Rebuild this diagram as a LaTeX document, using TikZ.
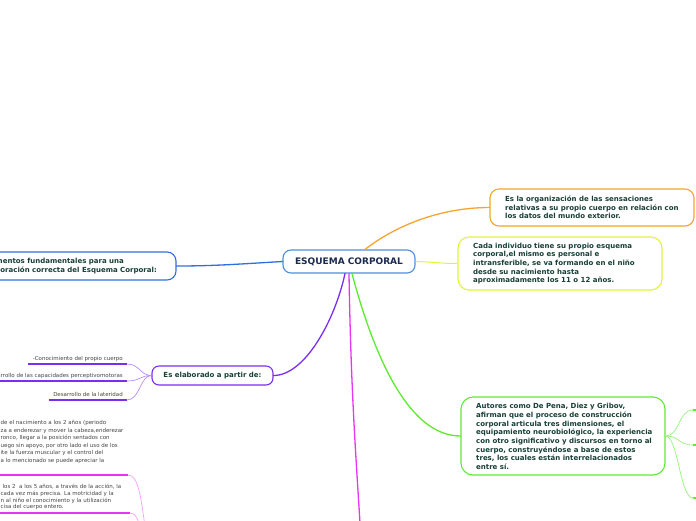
\documentclass[tikz,border=0pt]{standalone}
\usepackage{fontspec}
\setmainfont{DejaVu Sans}
\definecolor{cblue}{HTML}{4A90D9}
\definecolor{corange}{HTML}{F5A52A}
\definecolor{cyellow}{HTML}{E2F33C}
\definecolor{cbl}{HTML}{2F6FDF}
\definecolor{cpurple}{HTML}{7A2EF2}
\definecolor{cpurplel}{HTML}{B58DF8}
\definecolor{cmag}{HTML}{E535F2}
\definecolor{cmagl}{HTML}{F5A0F8}
\definecolor{cgreen}{HTML}{5EEB2E}
\definecolor{cgreenl}{HTML}{97F07F}
\definecolor{ctext}{HTML}{173F35}
\definecolor{cnavy}{HTML}{1B2A4E}
\definecolor{cgray}{HTML}{444444}
\begin{document}
\begin{tikzpicture}[x=1pt,y=-1pt,
  box/.style={draw, rounded corners=9pt, line width=1.1pt, fill=white, inner sep=0pt},
  btxt/.style={font=\fontsize{7}{8.7}\selectfont\bfseries, text=ctext, align=left, inner sep=0pt},
  ltxt/.style={font=\fontsize{5.5}{7}\selectfont, text=cgray, align=left, inner sep=0pt},
  branch/.style={line width=1.3pt, line cap=round},
  twig/.style={line width=0.7pt},
  uline/.style={line width=2pt}]
\useasboundingbox (0,0) rectangle (696,520);
\clip (0,0) rectangle (696,520);

% boxes
\node[box, draw=cblue, rounded corners=8pt, minimum width=132pt, minimum height=23pt,
      font=\fontsize{9}{11}\selectfont\bfseries, text=cnavy] (c) at (349,261.5) {ESQUEMA CORPORAL};
\node[box, draw=corange, minimum width=204pt, minimum height=37pt] (o) at (592,207.5) {};
\node[box, draw=cyellow, rounded corners=11pt, minimum width=204pt, minimum height=53pt] (y) at (560,263.5) {};
\node[box, draw=cbl, minimum width=206pt, minimum height=28pt] (b) at (73,266) {};
\node[box, draw=cpurple, rounded corners=7pt, minimum width=121pt, minimum height=19pt,
      font=\fontsize{7}{8.7}\selectfont\bfseries, text=ctext] (p) at (212.5,375.5) {Es elaborado a partir de:};
\node[box, draw=cgreen, rounded corners=12pt, minimum width=204pt, minimum height=78pt] (g) at (563,436) {};

% texts in boxes
\node[btxt, anchor=west] (ot) at (505,207.5) {Es la organización de las sensaciones\\relativas a su propio cuerpo en relación con\\los datos del mundo exterior.};
\node[btxt, anchor=west] (yt) at (473,263.5) {Cada individuo tiene su propio esquema\\corporal,el mismo es personal e\\intransferible, se va formando en el niño\\desde su nacimiento hasta\\aproximadamente los 11 o 12 años.};
\node[btxt, anchor=east] (bt) at (157,266) {Elementos fundamentales para una\\elaboración correcta del Esquema Corporal:};
\node[btxt, anchor=west] (gt) at (476,436.5) {Autores como De Pena, Diez y Gribov,\\afirman que el proceso de construcción\\corporal articula tres dimensiones, el\\equipamiento neurobiológico, la experiencia\\con otro significativo y discursos en torno al\\cuerpo, construyéndose a base de estos\\tres, los cuales están interrelacionados\\entre sí.};

% main branches
\draw[branch, corange] ([xshift=16pt]c.north) .. controls (395,226) and (440,207.5) .. (o.west);
\draw[line width=1pt, cyellow] (c.east) .. controls (435,262) and (440,263.5) .. (y.west);
\draw[branch, cbl] (c.west) .. controls (240,264) and (215,266) .. (b.east);
\draw[branch, cpurple] ([xshift=-4pt]c.south) .. controls (335,320) and (305,375.5) .. (p.east);
\coordinate (mend) at (361,540);
\draw[branch, cmag] (c.south) .. controls (351,400) and (357,470) .. (mend);
\draw[branch, cgreen] ([xshift=3pt]c.south) .. controls (375,360) and (410,436) .. (g.west);

% purple leaves
\coordinate (u1a) at (28,364);  \coordinate (u1b) at (127,364);
\coordinate (u2a) at (-5,381);  \coordinate (u2b) at (127,381);
\coordinate (u3a) at (49,400);  \coordinate (u3b) at (127,400);
\draw[uline, cpurple] (u1a) -- (u1b);
\draw[uline, cpurple] (u2a) -- (u2b);
\draw[uline, cpurple] (u3a) -- (u3b);
\node[ltxt, anchor=base east] (l1) at (123,360) {-Conocimiento del propio cuerpo};
\node[ltxt, anchor=base east] (l2) at (123,377.5) {Desarrollo de las capacidades perceptivomotoras};
\node[ltxt, anchor=base east] (l3) at (123,396) {Desarrollo de la lateridad};
\draw[twig, cpurplel] (p.west) .. controls (140,375.5) and (140,364) .. (u1b);
\draw[twig, cpurplel] (p.west) .. controls (140,375.5) and (140,381) .. (u2b);
\draw[twig, cpurplel] (p.west) .. controls (140,375.5) and (140,400) .. (u3b);

% magenta leaves
\coordinate (m1a) at (-5,475); \coordinate (m1b) at (128,475);
\coordinate (m2a) at (-5,513); \coordinate (m2b) at (130,513);
\coordinate (m1e) at (146,535); \coordinate (m2e) at (141,535);
\draw[uline, cmag] (m1a) -- (m1b);
\draw[uline, cmag] (m2a) -- (m2b);
\draw[twig, cmagl] (m1b) .. controls (138,475) and (141,495) .. (m1e);
\draw[twig, cmagl] (m2b) .. controls (135,513) and (139,518) .. (m2e);
\node[ltxt, anchor=west, font=\fontsize{5.5}{7.5}\selectfont] (mt1) at (0.5,442) {de el nacimiento a los 2 años (periodo\\za a enderezar y mover la cabeza,enderezar\\ronco, llegar a la posición sentados con\\uego sin apoyo, por otro lado el uso de los\\ite la fuerza muscular y el control del\\a lo mencionado se puede apreciar la};
\node[ltxt, anchor=west, font=\fontsize{5.5}{6.8}\selectfont] (mt2) at (0.5,497) {\hspace*{2pt}los 2\ \ a los 5 años, a través de la acción, la\\cada vez más precisa. La motricidad y la\\n al niño el conocimiento y la utilización\\cisa del cuerpo entero.};

% green leaves
\coordinate (gc1) at (693,410); \coordinate (gc2) at (693,445); \coordinate (gc3) at (693,498);
\coordinate (ge1) at (700,410); \coordinate (ge2) at (700,445); \coordinate (ge3) at (700,498);
\draw[uline, cgreen] (gc1) -- (ge1);
\draw[uline, cgreen] (gc2) -- (ge2);
\draw[uline, cgreen] (gc3) -- (ge3);
\draw[twig, cgreenl] (g.east) .. controls (680,436) and (678,410) .. (gc1);
\draw[twig, cgreenl] (g.east) .. controls (680,436) and (678,445) .. (gc2);
\draw[twig, cgreenl] (g.east) .. controls (678,436) and (680,498) .. (gc3);
\end{tikzpicture}
\end{document}
